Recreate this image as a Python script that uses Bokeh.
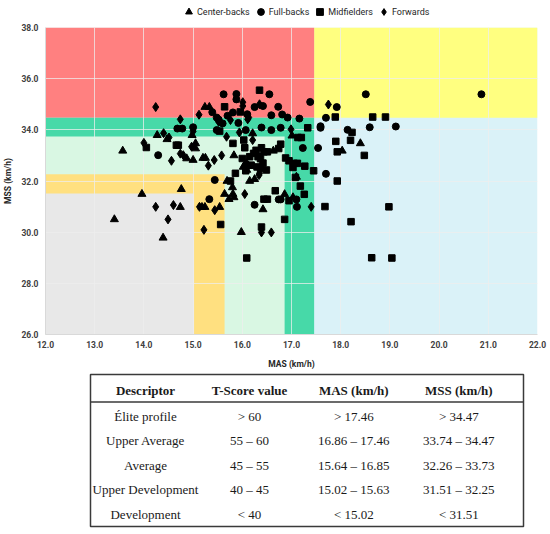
from bokeh.plotting import figure
from bokeh.models import (Range1d, FixedTicker, NumeralTickFormatter, Legend, LegendItem)
from bokeh.layouts import column
from bokeh.embed import file_html
from bokeh.resources import INLINE
from bokeh.core.properties import value

# ---------------- data ----------------
center_backs = [(13.40, 30.50), (13.57, 33.18), (13.96, 31.49), (14.27, 33.79), (14.39, 29.78),
                (14.47, 33.63), (14.74, 30.98), (14.76, 31.68), (14.87, 32.88), (14.98, 33.79),
                (15.00, 32.82), (15.05, 33.47), (15.05, 33.27), (15.20, 32.90), (15.25, 32.90),
                (15.24, 34.89), (15.33, 34.89), (15.18, 30.98), (15.24, 30.98), (15.54, 30.98),
                (15.64, 31.49), (15.69, 32.00), (15.80, 31.75), (15.81, 31.49), (15.73, 31.29),
                (15.83, 31.36), (15.83, 33.00), (15.98, 30.00), (16.09, 32.69), (16.13, 32.58),
                (16.09, 32.43), (16.15, 32.00), (16.25, 32.07), (16.21, 33.86), (16.42, 30.89),
                (16.63, 33.18), (16.86, 31.48), (17.01, 33.77), (17.03, 31.36), (17.10, 32.16),
                (18.03, 33.18), (18.40, 33.47), (16.05, 32.62), (16.02, 32.55)]
full_backs = [(14.29, 33.01), (14.68, 34.05), (14.78, 34.05), (15.00, 34.10), (15.33, 31.29),
              (15.39, 34.69), (15.44, 32.04), (15.48, 34.48), (15.48, 33.99), (15.60, 34.25),
              (15.62, 35.39), (15.81, 34.68), (15.88, 35.40), (15.88, 35.19), (15.92, 34.27),
              (16.07, 33.99), (16.10, 34.61), (16.25, 34.89), (16.25, 31.07), (16.39, 34.09),
              (16.42, 34.93), (16.55, 35.39), (16.59, 34.57), (16.59, 33.99), (16.73, 34.90),
              (16.74, 31.28), (16.78, 31.28), (16.78, 34.08), (16.81, 34.60), (16.92, 34.48),
              (17.10, 31.28), (17.11, 30.99), (17.16, 34.44), (17.23, 33.29), (17.38, 35.09),
              (17.54, 33.29), (17.59, 34.14), (17.59, 34.08), (17.70, 34.47), (17.70, 32.28),
              (17.92, 34.89), (18.14, 34.00), (18.51, 35.39), (18.59, 34.10), (19.12, 34.13),
              (20.86, 35.39), (15.52, 34.40), (15.70, 34.55)]
midfielders = [(14.05, 33.31), (14.66, 33.40), (14.70, 33.40), (15.54, 33.95), (15.56, 30.30),
               (15.64, 34.90), (15.76, 32.00), (15.81, 33.47), (15.86, 32.30), (15.96, 34.70),
               (16.03, 33.60), (16.05, 33.30), (16.07, 32.40), (16.09, 28.99), (16.15, 32.95),
               (16.23, 33.08), (16.30, 32.55), (16.32, 32.95), (16.35, 35.55), (16.37, 32.87),
               (16.37, 32.49), (16.39, 33.30), (16.39, 30.20), (16.44, 33.14), (16.51, 33.14),
               (16.44, 31.29), (16.51, 31.29), (16.49, 32.43), (16.67, 31.62), (16.74, 33.27),
               (16.78, 33.44), (16.86, 30.50), (16.88, 32.90), (16.95, 32.79), (16.95, 31.23),
               (17.05, 32.69), (17.12, 32.69), (17.03, 32.53), (17.08, 32.14), (17.13, 33.70),
               (17.20, 33.70), (17.18, 31.80), (17.26, 31.48), (17.27, 32.58), (17.33, 34.08),
               (17.45, 32.40), (17.68, 31.00), (17.89, 34.50), (17.90, 33.55), (17.93, 33.14),
               (17.93, 32.00), (18.20, 33.59), (18.23, 33.90), (18.21, 30.41), (18.48, 33.00),
               (18.63, 29.00), (18.65, 34.50), (18.91, 34.50), (18.98, 30.99), (19.04, 28.99),
               (16.18, 32.62), (16.28, 33.20), (16.00, 32.88), (16.42, 32.70)]
forwards = [(14.00, 33.49), (14.24, 34.89), (14.24, 30.99), (14.40, 33.87), (14.49, 30.50),
            (14.51, 33.70), (14.56, 32.79), (14.60, 31.06), (14.74, 34.41), (14.74, 33.07),
            (14.80, 33.01), (14.97, 33.34), (15.00, 33.94), (15.12, 34.59), (15.13, 30.99),
            (15.22, 30.09), (15.31, 32.60), (15.43, 32.82), (15.44, 30.86), (15.52, 34.31),
            (15.58, 33.00), (15.68, 33.73), (15.76, 34.38), (15.94, 33.90), (16.01, 35.08),
            (16.01, 34.93), (16.05, 31.49), (16.11, 34.41), (16.13, 34.48), (16.21, 33.60),
            (16.34, 32.23), (16.35, 35.00), (16.35, 32.30), (16.39, 29.99), (16.59, 29.99),
            (16.99, 34.02), (17.40, 30.99), (17.75, 34.99)]

series_names = ["Center-backs", "Full-backs", "Midfielders", "Forwards"]

# thresholds (MAS / MSS) of the profile bands
mas_cuts = [15.02, 15.64, 16.86, 17.46]
mss_cuts = [31.51, 32.26, 33.74, 34.47]

x_ticks = [12.0, 13.0, 14.0, 15.0, 16.0, 17.0, 18.0, 19.0, 20.0, 21.0, 22.0]
y_ticks = [26.0, 28.0, 30.0, 32.0, 34.0, 36.0, 38.0]

table_header = ["Descriptor", "T-Score value", "MAS (km/h)", "MSS (km/h)"]
table_rows = [
    ["Élite profile", "> 60", "> 17.46", "> 34.47"],
    ["Upper Average", "55 – 60", "16.86 – 17.46", "33.74 – 34.47"],
    ["Average", "45 – 55", "15.64 – 16.85", "32.26 – 33.73"],
    ["Upper Development", "40 – 45", "15.02 – 15.63", "31.51 – 32.25"],
    ["Development", "< 40", "< 15.02", "< 31.51"],
]

# ---------------- layout constants ----------------
FONT = "Roboto"
W = 550
LH = 20            # legend strip height
CH = 352           # chart height
TH = 534 - LH - CH # table height
BL, BR = 45, 13
x0, x1 = x_ticks[0], x_ticks[-1]
y0, y1 = y_ticks[0], y_ticks[-1]

markers = ["triangle", "circle", "square", "diamond"]
sizes = [8, 7, 6.5, 9]
groups = [center_backs, full_backs, midfielders, forwards]

# ---------------- legend strip ----------------
lg = figure(width=W, height=LH, output_backend="svg", toolbar_location=None,
            x_range=Range1d(0, 1), y_range=Range1d(0, 1),
            x_axis_type=None, y_axis_type=None,
            min_border_left=BL, min_border_right=BR, min_border_top=0, min_border_bottom=0)
lg.outline_line_color = None
lg.grid.visible = False
lg_items = []
for name, mk in zip(series_names, markers):
    # one off-screen point per series: only its legend glyph is seen
    r = lg.scatter(x=[-10], y=[-10], marker=mk, size=7, fill_color="black", line_color="black")
    lg_items.append(LegendItem(label=name, renderers=[r]))
legend = Legend(items=lg_items, orientation="horizontal", location=(135, 0),
                label_text_font=FONT, label_text_font_size="9px", label_text_color="#262626",
                glyph_width=17, glyph_height=17, label_height=12, label_standoff=0, spacing=2,
                padding=1, margin=0, border_line_color=None, background_fill_alpha=0)
lg.add_layout(legend, "center")

# ---------------- chart ----------------
p = figure(width=W, height=CH, output_backend="svg", toolbar_location=None,
           x_range=Range1d(x0, x1), y_range=Range1d(y0, y1),
           min_border_left=BL, min_border_right=BR, min_border_top=7, min_border_bottom=38)
p.outline_line_color = None
p.background_fill_color = "white"

# zones: nested rectangles, drawn from the biggest to the smallest
zone_left = [x0, mas_cuts[3], x0, x0, x0, x0, x0]
zone_right = [x1, x1, mas_cuts[3], mas_cuts[3], mas_cuts[2], mas_cuts[1], mas_cuts[0]]
zone_bottom = [y0, mss_cuts[3], mss_cuts[3], y0, y0, y0, y0]
zone_top = [y1, y1, y1, mss_cuts[3], mss_cuts[2], mss_cuts[1], mss_cuts[0]]
zone_colors = ["#DAF2F8", "#FFFF80", "#FF8080", "#47D9A8", "#D9F7E3", "#FFE080", "#E8E8E8"]
p.quad(left=zone_left, right=zone_right, bottom=zone_bottom, top=zone_top,
       fill_color=zone_colors, line_color=None, level="image")

p.xaxis.ticker = FixedTicker(ticks=x_ticks)
p.yaxis.ticker = FixedTicker(ticks=y_ticks)
p.xaxis.formatter = NumeralTickFormatter(format="0.0")
p.yaxis.formatter = NumeralTickFormatter(format="0.0")
p.grid.grid_line_color = "#EDEDED"
p.grid.grid_line_alpha = 0.75
p.grid.grid_line_width = 1

for ax in (p.xaxis, p.yaxis):
    ax.axis_line_color = "#D9D9D9"
    ax.major_tick_line_color = None
    ax.minor_tick_line_color = None
    ax.major_tick_out = 0
    ax.major_tick_in = 0
    ax.minor_tick_out = 0
    ax.minor_tick_in = 0
    ax.major_label_text_font = FONT
    ax.major_label_text_font_size = "8.5px"
    ax.major_label_text_font_style = "bold"
    ax.major_label_text_color = "#404040"
    ax.axis_label_text_font = FONT
    ax.axis_label_text_font_size = "8.5px"
    ax.axis_label_text_font_style = "bold"
    ax.axis_label_text_color = "#262626"
p.xaxis.axis_label = "MAS (km/h)"
p.yaxis.axis_label = "MSS (km/h)"
p.xaxis.major_label_standoff = 6
p.xaxis.axis_label_standoff = 8
p.yaxis.major_label_standoff = 7
p.yaxis.axis_label_standoff = 5

for pts, mk, sz in zip(groups, markers, sizes):
    xs = [a for a, b in pts]
    ys = [b for a, b in pts]
    p.scatter(xs, ys, marker=mk, size=sz, fill_color="black", line_color="black")

# ---------------- table (page-pixel coordinates) ----------------
top_t = LH + CH
t = figure(width=W, height=TH, output_backend="svg", toolbar_location=None,
           x_range=Range1d(BL, W - BR), y_range=Range1d(534, top_t),
           x_axis_type=None, y_axis_type=None,
           min_border_left=BL, min_border_right=BR, min_border_top=0, min_border_bottom=0)
t.outline_line_color = None
t.grid.visible = False

box_l, box_r, box_t, box_b = 90, 523, 374, 526
t.quad(left=[box_l], right=[box_r], top=[box_t], bottom=[box_b], fill_color=None,
       line_color="#3A3A3A", line_width=1.5)
head_line_y = 401.5
t.segment(x0=[box_l], x1=[box_r], y0=[head_line_y], y1=[head_line_y],
          line_color="#3A3A3A", line_width=1.5)

col_x = [145, 249, 353.3, 458.3]
head_y = 389.5
row_y0, row_dy = 415.7, 24.5
SERIF = "Liberation Serif"
t.text(x=col_x, y=[head_y] * 4, text=table_header, text_align="center", text_baseline="middle",
       text_font=value(SERIF), text_font_size="13px", text_font_style="bold", text_color="#1A1A1A")
tx, ty, tt = [], [], []
for i, row in enumerate(table_rows):
    for j, cell in enumerate(row):
        tx.append(col_x[j])
        ty.append(row_y0 + i * row_dy)
        tt.append(cell)
t.text(x=tx, y=ty, text=tt, text_align="center", text_baseline="middle",
       text_font=value(SERIF), text_font_size="13px", text_color="#1A1A1A")

layout = column(lg, p, t, spacing=0)
open("out.html", "w").write(file_html(layout, INLINE))
